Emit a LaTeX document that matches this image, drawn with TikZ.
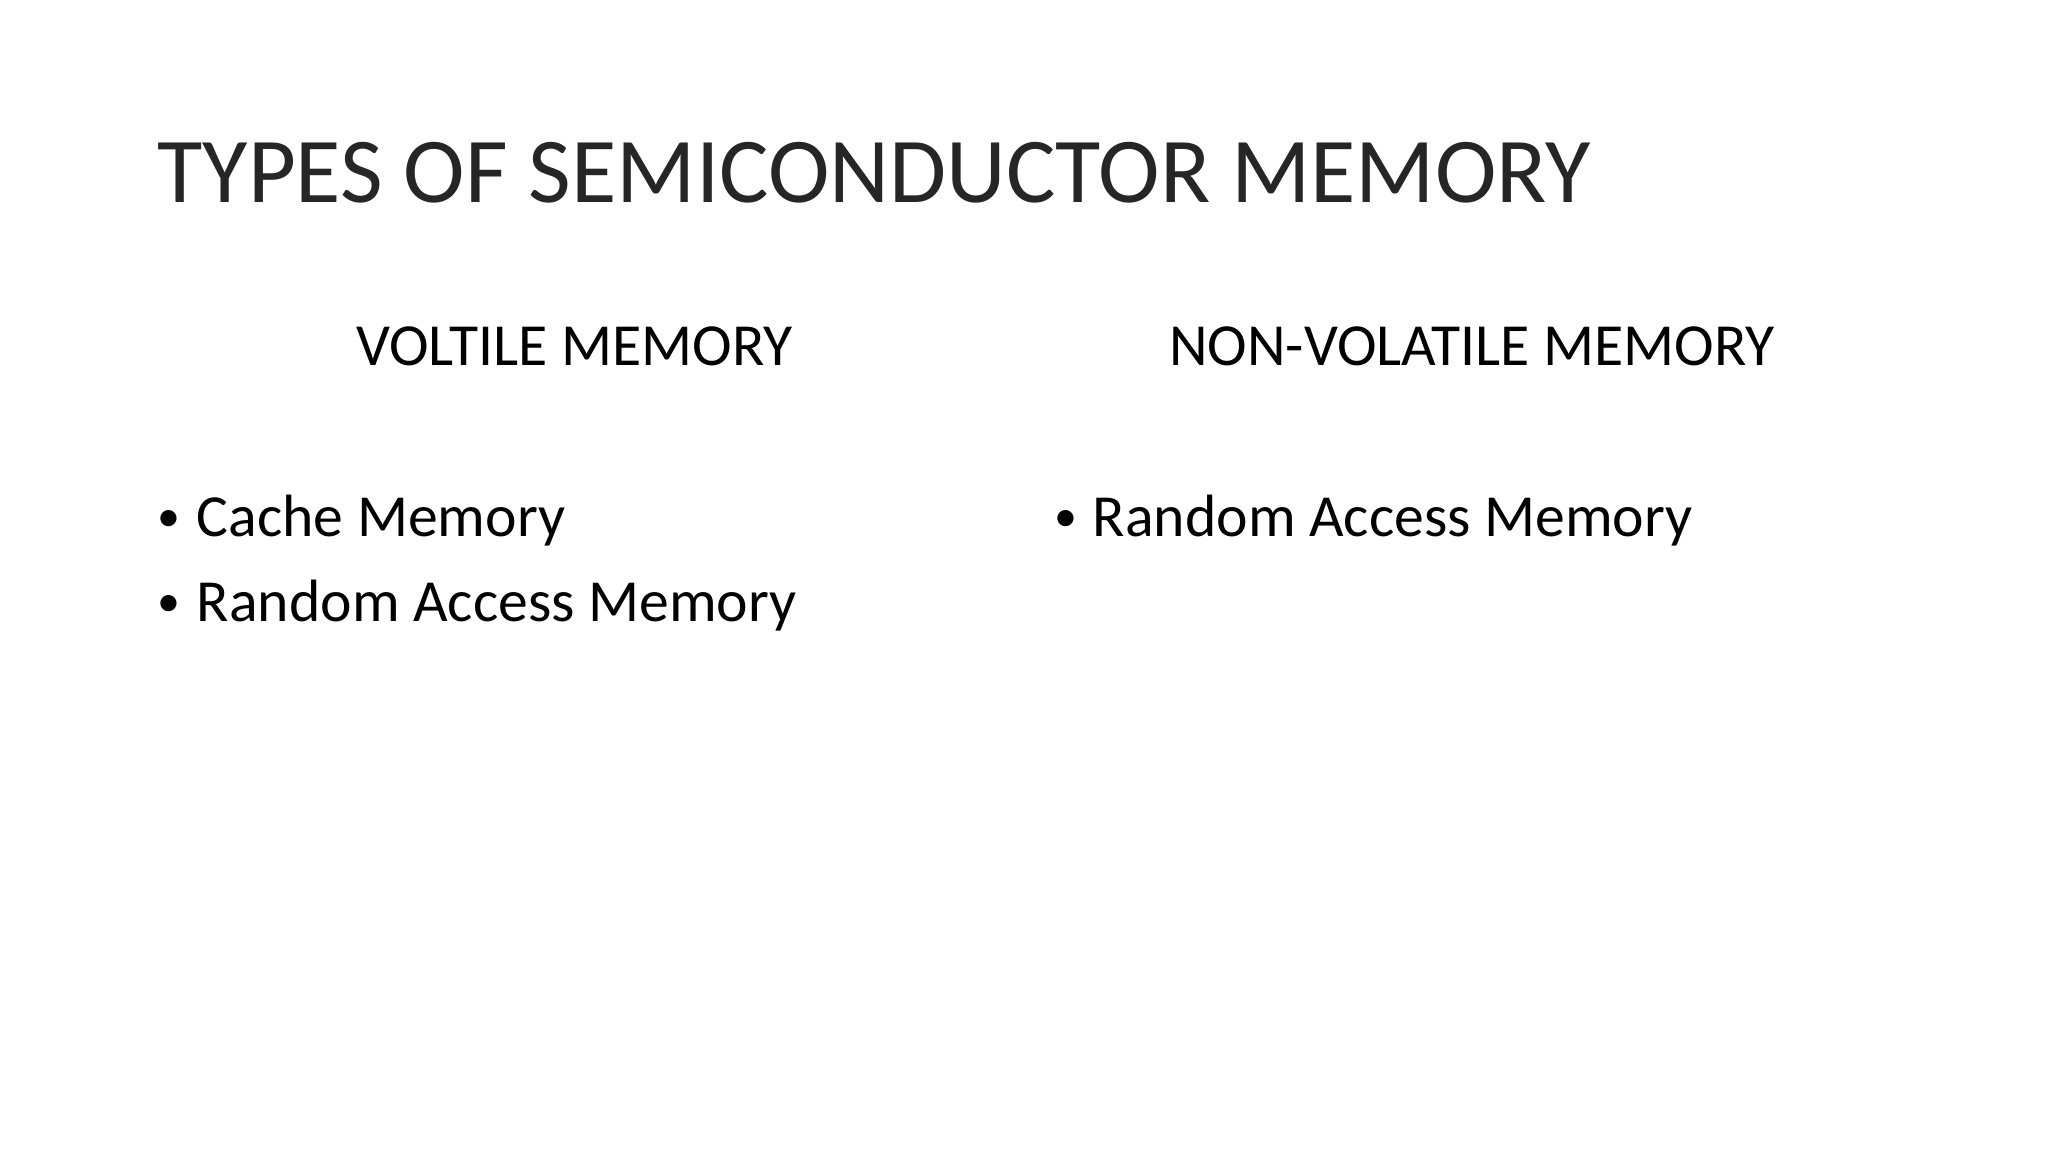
\documentclass[tikz,border=0pt]{standalone}
\usepackage{fontspec}
\setmainfont{Carlito}
\begin{document}
\begin{tikzpicture}[x=0.01cm,y=0.01cm,
  title/.style={anchor=base west,inner sep=0,font=\fontsize{20.2}{24}\selectfont,text=black!85},
  head/.style={anchor=base,inner sep=0,font=\fontsize{13}{16}\selectfont},
  item/.style={anchor=base west,inner sep=0,font=\fontsize{13}{16}\selectfont},
  dot/.style={anchor=base west,inner sep=0,font=\fontsize{10}{12}\selectfont}]
\fill[white] (0,0) rectangle (1568,-882);
\useasboundingbox (0,0) rectangle (1568,-882);
\node[title] (t) at (120,-155) {TYPES OF SEMICONDUCTOR MEMORY};
\node[head] (h1) at (440,-280) {VOLTILE MEMORY};
\node[head] (h2) at (1127,-280) {NON-VOLATILE MEMORY};
\node[dot] (d1) at (120,-407) {•};
\node[item] (b1) at (150,-411) {Cache Memory};
\node[dot] (d2) at (120,-472) {•};
\node[item] (b2) at (150,-476) {Random Access Memory};
\node[dot] (d3) at (807,-407) {•};
\node[item] (b3) at (836,-411) {Random Access Memory};
\end{tikzpicture}
\end{document}
